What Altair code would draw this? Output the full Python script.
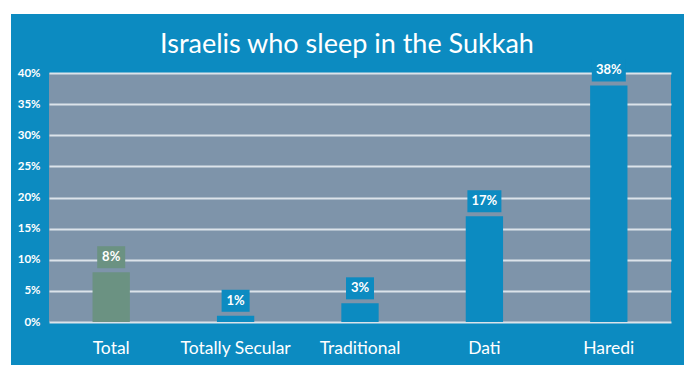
import altair as alt
import pandas as pd

categories = ["Total", "Totally Secular", "Traditional", "Dati", "Haredi"]
values = [8, 1, 3, 17, 38]
labels = ["8%", "1%", "3%", "17%", "38%"]
y_ticks = [0, 5, 10, 15, 20, 25, 30, 35, 40]

BLUE = "#0C8BC1"
GRAY = "#7E94AA"
GREEN = "#6B9282"
GRID = "#DCE3EA"
FONT = "Lato"

df = pd.DataFrame({"category": categories, "value": values, "label": labels})

x_enc = alt.X("category:N", sort=categories,
              scale=alt.Scale(paddingInner=0.7, paddingOuter=0.35),
              axis=alt.Axis(title=None, labelAngle=0, labelFontSize=17.5, labelColor="white",
                            labelFont=FONT, labelPadding=17, ticks=False, domain=False, grid=False))
y_enc = alt.Y("value:Q", scale=alt.Scale(domain=[0, 40], nice=False),
              axis=alt.Axis(title=None, values=y_ticks, labelExpr="datum.value + '%'",
                            labelFontSize=11.5, labelFontWeight="bold", labelColor="white",
                            labelFont=FONT, labelPadding=9, ticks=False, domain=False,
                            labelOverlap=False,
                            grid=True, gridColor=GRID, gridWidth=2))

color_cond = alt.condition("datum.category == 'Total'", alt.value(GREEN), alt.value(BLUE))

base = alt.Chart(df)

bars = base.mark_bar().encode(x=x_enc, y=y_enc, color=color_cond)

narrow = "M-0.7,-0.55H0.7V0.55H-0.7Z"
wide = "M-0.85,-0.55H0.85V0.55H-0.85Z"
boxes = base.mark_point(filled=True, opacity=1, size=1600, yOffset=-15, strokeWidth=0).encode(
    x=x_enc,
    y=y_enc,
    color=color_cond,
    shape=alt.condition("length(datum.label) > 2", alt.value(wide), alt.value(narrow)),
)

texts = base.mark_text(color="white", fontSize=13, fontWeight="bold", font=FONT,
                       baseline="middle", yOffset=-15).encode(
    x=x_enc,
    y=y_enc,
    text="label:N",
)

blank = alt.Chart(alt.Data(values=[{}]))
strip_top = blank.mark_rect(color="white", clip=False).encode(
    x=alt.value(-41), x2=alt.value(635), y=alt.value(-65), y2=alt.value(-59))
strip_left = blank.mark_rect(color="white", clip=False).encode(
    x=alt.value(-41), x2=alt.value(-38), y=alt.value(-65), y2=alt.value(292))

chart = alt.layer(bars, boxes, texts, strip_top, strip_left).properties(
    width=622, height=249,
    background=BLUE,
    padding={"left": 41, "top": 65, "right": 13, "bottom": 43},
    autosize=alt.AutoSizeParams(type="none"),
    title=alt.TitleParams("Israelis who sleep in the Sukkah", font=FONT, fontSize=27,
                          fontWeight="normal", color="white", anchor="middle",
                          baseline="alphabetic", dx=-13, dy=72, offset=0),
).configure_view(fill=GRAY, stroke=None)

chart.save("out.html", embed_options={"renderer": "svg", "actions": False})
